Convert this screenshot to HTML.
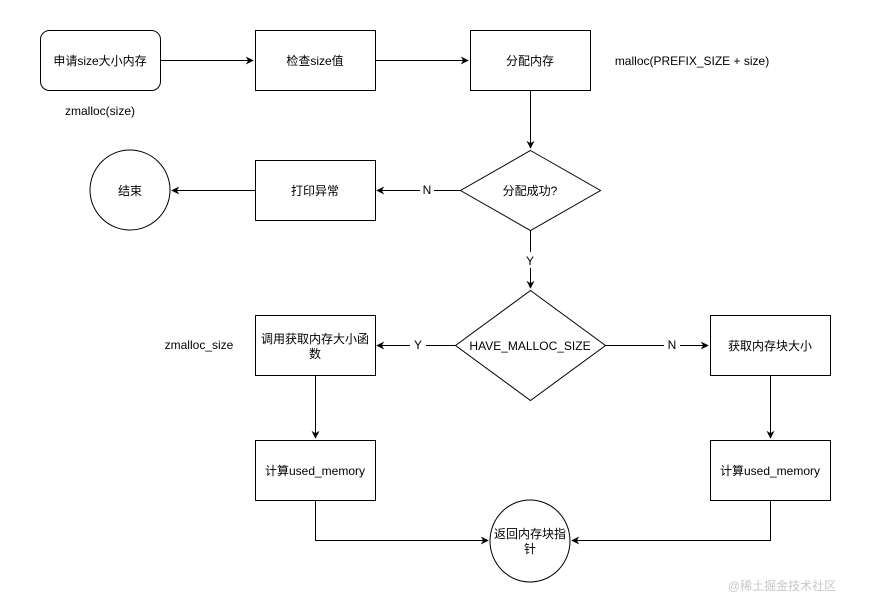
<!DOCTYPE html>
<html><head><meta charset="utf-8"><style>
html,body{margin:0;padding:0;background:#fff;}
svg{display:block;}
text{font-family:"Liberation Sans","Noto Sans CJK SC",sans-serif;font-size:12px;fill:#000;}
</style></head><body>
<svg width="881" height="612" viewBox="0 0 881 612" xmlns="http://www.w3.org/2000/svg">
<defs><marker id="a" viewBox="0 0 10 10" refX="9" refY="5" markerWidth="8" markerHeight="8" orient="auto"><path d="M0,0 L10,5 L0,10 L3,5 Z" fill="#000"/></marker></defs>
<g fill="#fff" stroke="#000" stroke-width="1">
<rect x="40.5" y="30.5" width="120" height="60" rx="9"/>
<rect x="255.5" y="30.5" width="120" height="60"/>
<rect x="470.5" y="30.5" width="120" height="60"/>
<rect x="255.5" y="160.5" width="120" height="60"/>
<ellipse cx="130" cy="190" rx="40" ry="40"/>
<polygon points="530.5,150.5 600.5,190.5 530.5,230.5 460.5,190.5"/>
<polygon points="530.5,290.5 605.5,345.5 530.5,400.5 455.5,345.5"/>
<rect x="255.5" y="315.5" width="120" height="60"/>
<rect x="710.5" y="315.5" width="120" height="60"/>
<rect x="255.5" y="440.5" width="120" height="60"/>
<rect x="710.5" y="440.5" width="120" height="60"/>
<ellipse cx="530" cy="541" rx="40" ry="41"/>
</g>
<g fill="none" stroke="#000" stroke-width="1" marker-end="url(#a)">
<path d="M160.5 60.5 H253"/>
<path d="M375.5 60.5 H468"/>
<path d="M530.5 90.5 V148"/>
<path d="M460.5 190.5 H377"/>
<path d="M255.5 190.5 H172"/>
<path d="M530.5 230.5 V288"/>
<path d="M455.5 345.5 H377"/>
<path d="M605.5 345.5 H708"/>
<path d="M315.5 375.5 V438"/>
<path d="M770.5 375.5 V438"/>
<path d="M315.5 500.5 V540.5 H488"/>
<path d="M770.5 500.5 V540.5 H572"/>
</g>
<g text-anchor="middle">
<rect x="420" y="183" width="14" height="14" fill="#fff"/>
<text x="427" y="194" font-size="10">N</text>
<rect x="524" y="252" width="14" height="16" fill="#fff"/>
<text x="530" y="265">Y</text>
<rect x="410" y="337" width="16" height="16" fill="#fff"/>
<text x="418" y="349">Y</text>
<rect x="664" y="337" width="16" height="16" fill="#fff"/>
<text x="672" y="349">N</text>
<text x="100" y="65">申请size大小内存</text>
<text x="315" y="65">检查size值</text>
<text x="530" y="65">分配内存</text>
<text x="315" y="195">打印异常</text>
<text x="130" y="195">结束</text>
<text x="530" y="195">分配成功?</text>
<text x="530" y="350">HAVE_MALLOC_SIZE</text>
<text x="315" y="343">调用获取内存大小函</text>
<text x="315" y="358">数</text>
<text x="770" y="350">获取内存块大小</text>
<text x="315" y="475">计算used_memory</text>
<text x="770" y="475">计算used_memory</text>
<text x="530" y="538">返回内存块指</text>
<text x="530" y="553">针</text>
<text x="100" y="115">zmalloc(size)</text>
<text x="692" y="65">malloc(PREFIX_SIZE + size)</text>
<text x="199" y="349">zmalloc_size</text>
<text x="782" y="590" font-size="17" fill="#bbb" style="fill:#c8c8c8">@稀土掘金技术社区</text>
</g>
</svg>
</body></html>
